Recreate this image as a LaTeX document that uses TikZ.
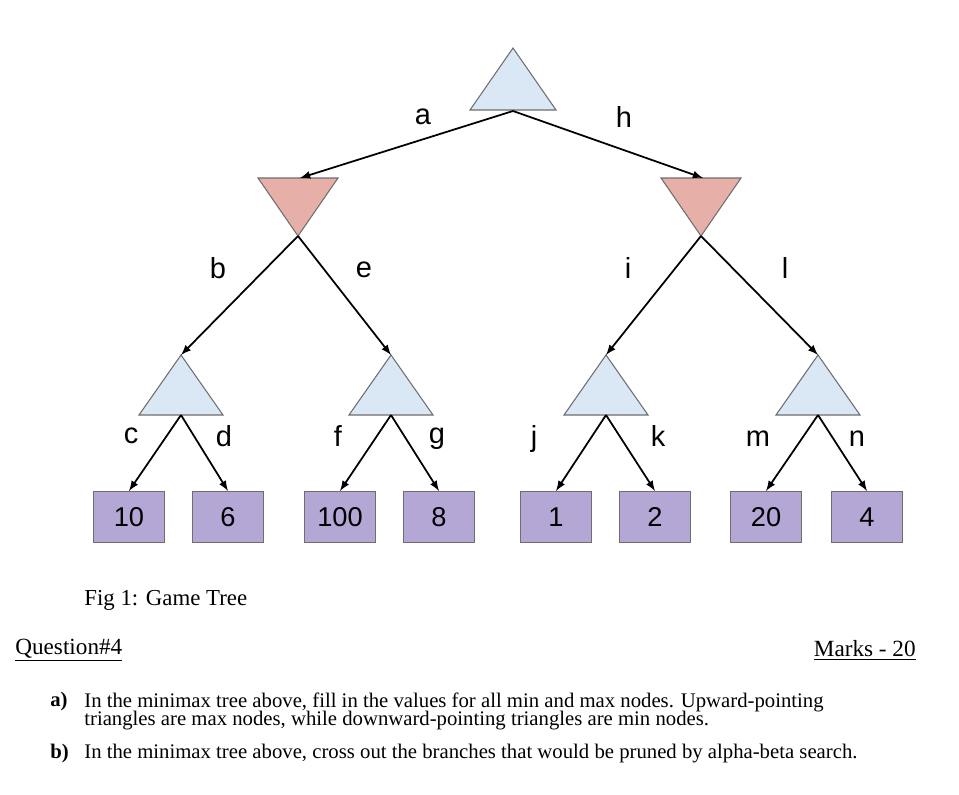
\documentclass[tikz,border=0pt]{standalone}
\usepackage{fontspec}
\setmainfont{Liberation Serif}
\newfontfamily\lsans{Liberation Sans}
\definecolor{maxc}{HTML}{DAE8F6}
\definecolor{minc}{HTML}{E6AFA8}
\definecolor{leafc}{HTML}{B4A7D6}
\definecolor{edgec}{HTML}{6E6E6E}
\begin{document}
\begin{tikzpicture}[x=0.02cm,y=-0.02cm,
  tri/.style={draw=edgec,line width=0.6pt},
  leaf/.style={draw=edgec,fill=leafc,line width=0.6pt,minimum width=1.42cm,minimum height=1.02cm,inner sep=0pt,font=\lsans\fontsize{15.5}{18}\selectfont},
  arr/.style={-latex,line width=1pt},
  lab/.style={font=\lsans\fontsize{16.5}{19}\selectfont},
  txt/.style={anchor=west,inner sep=0pt},
  body/.style={txt,font=\fontsize{11.8}{14}\selectfont}]
\useasboundingbox (0,0) rectangle (959,794);
% triangles
\draw[tri,fill=maxc] (513,48) -- (556,110) -- (470,110) -- cycle;
\draw[tri,fill=minc] (258,178) -- (338,178) -- (298,236) -- cycle;
\draw[tri,fill=minc] (661,178) -- (741,178) -- (701,236) -- cycle;
\foreach \x in {181,391,606,818}
  \draw[tri,fill=maxc] (\x,355) -- (\x+42,415) -- (\x-42,415) -- cycle;
\coordinate (r) at (513,111);
\coordinate (m1t) at (300,178); \coordinate (m1b) at (298,236);
\coordinate (m2t) at (703,178); \coordinate (m2b) at (701,236);
\foreach \i/\x in {1/181,2/391,3/606,4/818}{
  \coordinate (x\i t) at (\x,355); \coordinate (x\i b) at (\x,415);}
% leaves
\node[leaf] (l1) at (129,517) {10};
\node[leaf] (l2) at (228,517) {6};
\node[leaf] (l3) at (340,517) {100};
\node[leaf] (l4) at (439,517) {8};
\node[leaf] (l5) at (556,517) {1};
\node[leaf] (l6) at (655,517) {2};
\node[leaf] (l7) at (766,517) {20};
\node[leaf] (l8) at (867,517) {4};
% edges
\draw[arr] (r) -- (m1t);
\draw[arr] (r) -- (m2t);
\draw[arr] (m1b) -- (x1t);
\draw[arr] (m1b) -- (x2t);
\draw[arr] (m2b) -- (x3t);
\draw[arr] (m2b) -- (x4t);
\draw[arr] (x1b) -- (l1.north);
\draw[arr] (x1b) -- (l2.north);
\draw[arr] (x2b) -- (l3.north);
\draw[arr] (x2b) -- (l4.north);
\draw[arr] (x3b) -- (l5.north);
\draw[arr] (x3b) -- (l6.north);
\draw[arr] (x4b) -- (l7.north);
\draw[arr] (x4b) -- (l8.north);
% labels
\node[lab] (la) at (423,117) {a};
\node[lab] (lh) at (624,117) {h};
\node[lab] (lb) at (218,268) {b};
\node[lab] (le) at (364,270) {e};
\node[lab] (li) at (628,268) {i};
\node[lab] (ll) at (785,268) {l};
\node[lab] (lc) at (131,436) {c};
\node[lab] (ld) at (224,436) {d};
\node[lab] (lf) at (338,436) {f};
\node[lab] (lg) at (437,439) {g};
\node[lab] (lj) at (534,439) {j};
\node[lab] (lk) at (658,436) {k};
\node[lab] (lm) at (758,439) {m};
\node[lab] (ln) at (857,439) {n};
% text
\node[txt,font=\fontsize{13}{15}\selectfont] (cap) at (84,600) {Fig 1: Game Tree};
\node[txt,font=\fontsize{13.2}{15}\selectfont] (q) at (15,650) {\underline{Question\#4}};
\node[txt,anchor=east,font=\fontsize{13.2}{15}\selectfont] (mk) at (916,650) {\underline{Marks - 20}};
\node[body] (ia) at (50,702) {\textbf{a)}};
\node[body] (ta) at (84,702) {In the minimax tree above, fill in the values for all min and max nodes. Upward-pointing};
\node[body] (ta2) at (84,721) {triangles are max nodes, while downward-pointing triangles are min nodes.};
\node[body] (ib) at (50,754) {\textbf{b)}};
\node[body] (tb) at (84,754) {In the minimax tree above, cross out the branches that would be pruned by alpha-beta search.};
\end{tikzpicture}
\end{document}
